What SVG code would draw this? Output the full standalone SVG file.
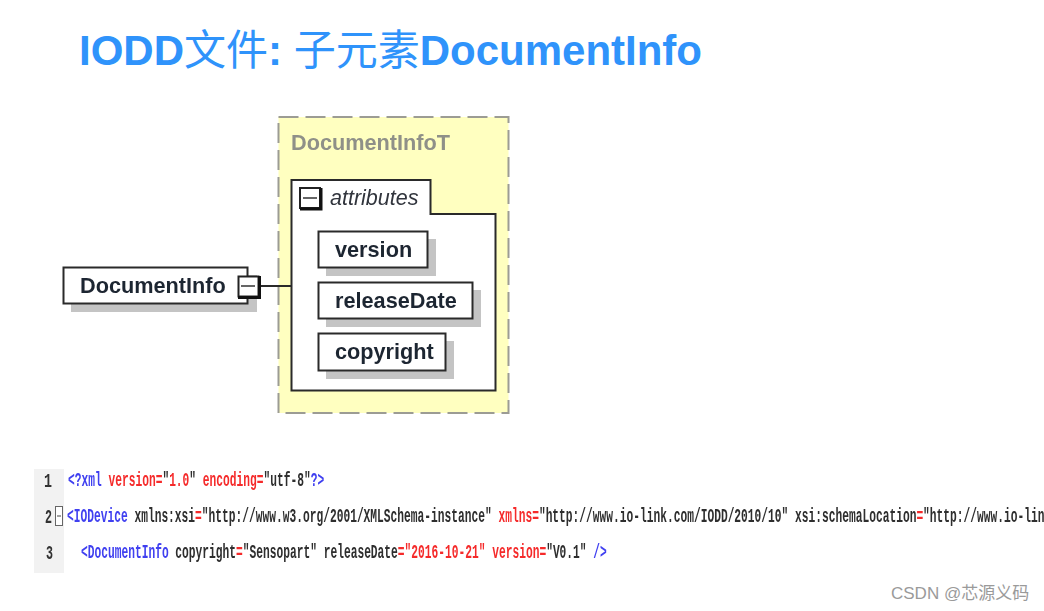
<svg xmlns="http://www.w3.org/2000/svg" width="1044" height="611" viewBox="0 0 1044 611">
<defs>
<filter id="soft" x="-5%" y="-20%" width="110%" height="140%"><feGaussianBlur stdDeviation="0.45"/></filter>
</defs>
<style>
.box{fill:#fff;stroke:#2a2a2a;stroke-width:2}
.sh{fill:#c4c4c4}
.lb{font:bold 21.700px "Liberation Sans",Arial,sans-serif;fill:#1f2530;filter:url(#soft)}
.code{font-family:"Liberation Mono","Courier New",monospace;font-size:20px;font-weight:bold}
.k{fill:#2e2e2e}.b{fill:#4040f0}.r{fill:#f52c2c}
.n{font-family:"Liberation Mono",monospace;font-size:20px;font-weight:bold;fill:#333}
.ln{filter:url(#soft)}
.tog{fill:#fff;stroke:#222;stroke-width:2}
.togs{fill:none;stroke:#111;stroke-width:3}
.dash{stroke:#666;stroke-width:2;fill:none}
</style>
<rect width="1044" height="611" fill="#fff"/>
<text id="title" x="79" y="65" font-family="'Liberation Sans','Noto Sans CJK SC',sans-serif" font-size="42" font-weight="bold" fill="#2f93fb">IODD<tspan font-weight="normal">文件</tspan>: <tspan font-weight="normal">子元素</tspan>DocumentInfo</text>
<g id="DocumentInfoT">
<rect x="278.500" y="117" width="230" height="296" fill="#ffffc0" stroke="#9c9c94" stroke-width="2" stroke-dasharray="20 7"/>
<text x="291" y="150" font-family="'Liberation Sans',sans-serif" font-size="21.700" font-weight="bold" fill="#8f9088" filter="url(#soft)">DocumentInfoT</text>
</g>
<g id="attributes">
<path d="M291.500 180H430.500V214H495.500V390.500H291.500Z" fill="#fff" stroke="#2a2a2a" stroke-width="2"/>
<rect class="tog" x="300" y="188" width="20" height="20"/>
<path class="togs" d="M321 188V209H300"/>
<path class="dash" d="M303 198H317"/>
<text x="330" y="205" font-family="'Liberation Sans',sans-serif" font-size="21.500" font-style="italic" fill="#30343c" filter="url(#soft)">attributes</text>
</g>
<g id="version">
<rect class="sh" x="326" y="239" width="110" height="37"/>
<rect class="box" x="318.500" y="231.500" width="109" height="36"/>
<text class="lb" x="335" y="257">version</text>
</g>
<g id="releaseDate">
<rect class="sh" x="326" y="290" width="155" height="37"/>
<rect class="box" x="318.500" y="282.500" width="154" height="36"/>
<text class="lb" x="335" y="308">releaseDate</text>
</g>
<g id="copyright">
<rect class="sh" x="326" y="341" width="128" height="38"/>
<rect class="box" x="318.500" y="333.500" width="127" height="37"/>
<text class="lb" x="335" y="359">copyright</text>
</g>
<g id="connectors">
<path d="M259 286H292" stroke="#2a2a2a" stroke-width="2" fill="none"/>
</g>
<g id="DocumentInfo">
<rect class="sh" x="71" y="275" width="186" height="37"/>
<rect class="box" x="63.500" y="267.500" width="184" height="36"/>
<text class="lb" x="80" y="293">DocumentInfo</text>
<rect class="tog" x="238.500" y="276.500" width="20" height="20"/>
<path class="togs" d="M259.500 276V297.500H238"/>
<path class="dash" d="M241 286H255"/>
</g>
<g id="code">
<rect x="34" y="469" width="30" height="104" fill="#f2f2f2"/>
<text class="n ln" x="44" y="487" textLength="8" lengthAdjust="spacingAndGlyphs">1</text>
<text class="n ln" x="45" y="523" textLength="7" lengthAdjust="spacingAndGlyphs">2</text>
<text class="n ln" x="46" y="559" textLength="7" lengthAdjust="spacingAndGlyphs">3</text>
<rect x="55.500" y="506.500" width="7" height="19" fill="#fff" stroke="#666" stroke-width="1"/>
<path d="M57 516H61" stroke="#444"/>
<g class="ln">
<text class="code" transform="translate(68 486) scale(.5617 1)"><tspan class="b">&lt;?xml</tspan><tspan class="k"> </tspan><tspan class="r">version=</tspan><tspan class="k">"</tspan><tspan class="r">1.0</tspan><tspan class="k">" </tspan><tspan class="r">encoding=</tspan><tspan class="k">"utf-8"</tspan><tspan class="b">?&gt;</tspan></text>
<text class="code" transform="translate(67 522) scale(.5617 1)"><tspan class="b">&lt;IODevice</tspan><tspan class="k"> xmlns:xsi</tspan><tspan class="r">=</tspan><tspan class="k">"http://www.w3.org/2001/XMLSchema-instance" </tspan><tspan class="r">xmlns=</tspan><tspan class="k">"http://www.io-link.com/IODD/2010/10" xsi:schemaLocation</tspan><tspan class="r">=</tspan><tspan class="k">"http://www.io-lin</tspan></text>
<text class="code" transform="translate(81 558) scale(.5617 1)"><tspan class="b">&lt;DocumentInfo</tspan><tspan class="k"> copyright</tspan><tspan class="r">=</tspan><tspan class="k">"Sensopart" releaseDate</tspan><tspan class="r">="2016-10-21" version=</tspan><tspan class="k">"V0.1" </tspan><tspan class="b">/&gt;</tspan></text>
</g>
</g>
<text id="watermark" x="891" y="599" font-family="'Liberation Sans','Noto Sans CJK SC',sans-serif" font-size="17" fill="#9a9a9a">CSDN @芯源义码</text>
</svg>
